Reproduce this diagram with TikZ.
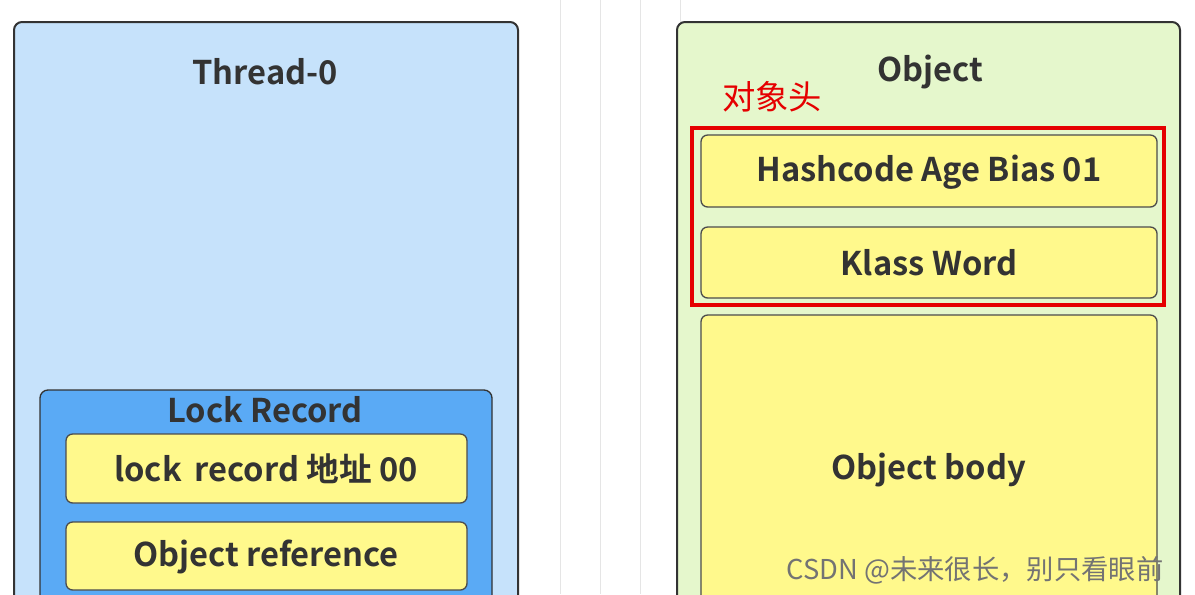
\documentclass[tikz,border=0pt]{standalone}
\usepackage{fontspec}
\setmainfont{Noto Sans CJK SC}[BoldFont={* Bold}]
\begin{document}
\begin{tikzpicture}[x=0.75pt,y=-0.75pt,
  outer/.style={draw=black!80,line width=1.5pt,rounded corners=6pt},
  ybox/.style={draw=black!70,line width=1pt,fill=yellow!45!white,rounded corners=5pt},
  lbl/.style={font=\bfseries\fontsize{24.5}{28}\selectfont,text=black!80}]
\useasboundingbox (0,0) rectangle (1195,594);
\fill[white] (0,0) rectangle (1195,594);
\draw[black!10,line width=0.6pt] (530,0) grid[step=40] (680,594);
\draw[outer,fill={rgb,255:red,198;green,226;blue,251}] (14,22) rectangle (518,620);
\node[lbl] (t0) at (265,72) {Thread-0};
\draw[outer,line width=1pt,fill={rgb,255:red,90;green,170;blue,245}] (40,390) rectangle (492,620);
\node[lbl] (lr) at (265,410) {Lock Record};
\draw[ybox] (66,434) rectangle (467,503);
\node[lbl] (lra) at (266,469) {lock\, record 地址 00};
\draw[ybox] (66,522) rectangle (467,590);
\node[lbl] (oref) at (266,557) {Object reference};
\draw[outer,fill={rgb,255:red,229;green,247;blue,204}] (677,22) rectangle (1180,620);
\node[lbl] (obj) at (930,72) {Object};
\node[text=red!90!black,font=\fontsize{25}{28}\selectfont] (dx) at (772,97) {对象头};
\draw[red!90!black,line width=2.8pt] (692,128) rectangle (1164,305);
\draw[ybox] (701,135) rectangle (1157,207);
\node[lbl] (hc) at (929,172) {Hashcode Age Bias 01};
\draw[ybox] (701,227) rectangle (1157,298);
\node[lbl] (kw) at (929,263) {Klass Word};
\draw[ybox] (701,315) rectangle (1157,620);
\node[lbl] (ob) at (929,470) {Object body};
\node[text=black!55,font=\fontsize{20.5}{24}\selectfont] (wm) at (975,570) {CSDN @未来很长，别只看眼前};
\end{tikzpicture}
\end{document}
